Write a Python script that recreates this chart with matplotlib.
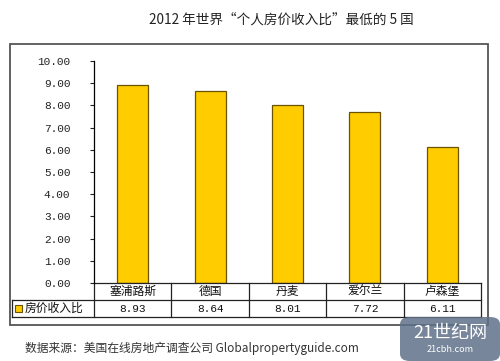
import numpy as np
import matplotlib
matplotlib.use("Agg")
import matplotlib.pyplot as plt
from matplotlib.patches import Rectangle, FancyBboxPatch
from matplotlib.lines import Line2D
import matplotlib.transforms as mtransforms

plt.rcParams['font.family'] = ['Noto Sans CJK SC', 'DejaVu Sans']

# data
countries = ['塞浦路斯', '德国', '丹麦', '爱尔兰', '卢森堡']
ratios = [8.93, 8.64, 8.01, 7.72, 6.11]
series_name = '房价收入比'
yticks = np.arange(0, 11, 1)

W, H = 500, 361
fig = plt.figure(figsize=(W / 100, H / 100), dpi=100)
fig.patch.set_facecolor('white')

def px(x0, y0):
    # pixel (top-left origin) -> figure fraction
    return x0 / W, 1 - y0 / H

# outer frame
fx, fy = px(10, 325)
fig.patches.append(Rectangle((fx, fy), 478 / W, 281 / H, transform=fig.transFigure,
                             fill=False, edgecolor='#555555', lw=1.3))

# plot area
l, b = px(94, 283)
ax = fig.add_axes([l, b, (481 - 94) / W, (283 - 61) / H])
x = np.arange(len(countries))
ax.bar(x, ratios, width=0.4, color='#FFCC00', edgecolor='#6b5200', linewidth=0.9)
ax.set_xlim(-0.5, len(countries) - 0.5)
ax.set_ylim(0, 10)
ax.set_yticks(yticks)
ax.set_yticklabels(['%.2f' % v for v in yticks], family='Liberation Mono', fontsize=8)
ax.tick_params(axis='y', direction='out', length=3, width=0.8, pad=14, colors='#222222')
ax.set_xticks([])
for s in ['top', 'right', 'bottom']:
    ax.spines[s].set_visible(False)
ax.spines['left'].set_linewidth(0.9)

# data table under the axis
row_h = 17 / (283 - 61)
trans = mtransforms.blended_transform_factory(ax.transData, ax.transAxes)
lc = '#222222'
left_edge = ax.transAxes.inverted().transform(fig.transFigure.transform(px(12, 0)))[0]
for yy in [0, -row_h]:
    ax.add_line(Line2D([0 if yy == 0 else left_edge, 1], [yy, yy], transform=ax.transAxes,
                       color=lc, lw=0.9, clip_on=False))
ax.add_line(Line2D([left_edge, 1], [-2 * row_h, -2 * row_h], transform=ax.transAxes,
                   color=lc, lw=0.9, clip_on=False))
ax.add_line(Line2D([left_edge, left_edge], [-row_h, -2 * row_h], transform=ax.transAxes,
                   color=lc, lw=0.9, clip_on=False))
for i in range(len(countries) + 1):
    ax.add_line(Line2D([i - 0.5, i - 0.5], [0, -2 * row_h], transform=trans,
                       color=lc, lw=0.9, clip_on=False))
for i, (c, v) in enumerate(zip(countries, ratios)):
    ax.text(i, -row_h / 2, c, transform=trans, ha='center', va='center', fontsize=8.5, color='#111111')
    ax.text(i, -1.5 * row_h, '%.2f' % v, transform=trans, ha='center', va='center',
            family='Liberation Mono', fontsize=8, color='#111111')

# legend key in table row label
kx, ky = px(15, 312)
fig.patches.append(Rectangle((kx, ky), 7 / W, 7 / H, transform=fig.transFigure,
                             facecolor='#FFCC00', edgecolor='#6b5200', lw=0.8))
tx, ty = px(25, 308.5)
fig.text(tx, ty, series_name, ha='left', va='center', fontsize=8.5, color='#111111')

# title
fig.text(281 / W, 1 - 20 / H, '2012 年世界“个人房价收入比”最低的 5 国',
         ha='center', va='center', fontsize=9.8, color='#222222')

# source
fig.text(25 / W, 1 - 348 / H, '数据来源：美国在线房地产调查公司 Globalpropertyguide.com',
         ha='left', va='center', fontsize=8.5, color='#333333')

# watermark
wx, wy = px(400, 361)
fig.patches.append(FancyBboxPatch((wx, wy), 100 / W, 44 / H, transform=fig.transFigure,
                                  boxstyle='round,pad=0,rounding_size=0.02',
                                  facecolor='#5f7189', edgecolor='none', alpha=0.85))
fig.text(450 / W, 1 - 333 / H, '21世纪网', ha='center', va='center', fontsize=13,
         color='white')
fig.text(450 / W, 1 - 350 / H, '21cbh.com', ha='center', va='center', fontsize=6.5,
         color='white')

fig.savefig('out.png', dpi=100)
